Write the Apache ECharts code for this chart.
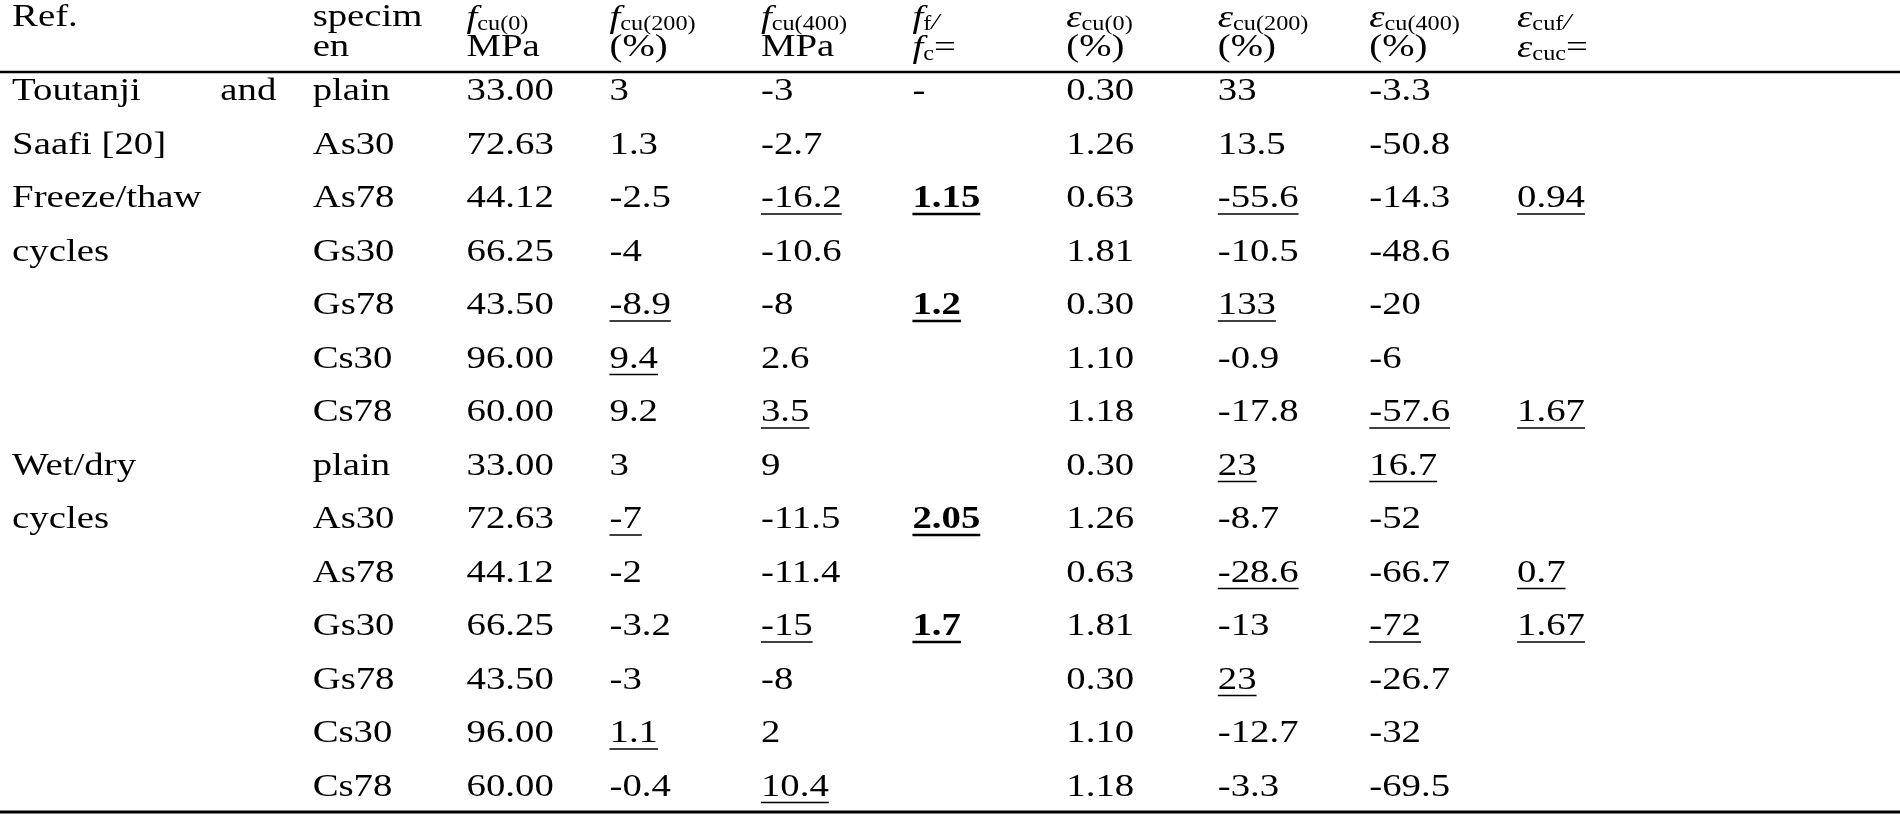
<!DOCTYPE html>
<html><head><meta charset="utf-8">
<script src="https://cdn.jsdelivr.net/npm/echarts@6/dist/echarts.min.js"></script>
<style>html,body{margin:0;background:#fff}#c{width:1900px;height:826px}</style>
</head><body><div id="c"></div>
<script>
// column keys and header fragments
const columns = ['ref', 'specimen', 'fcu0', 'fcu200', 'fcu400', 'ffc', 'ecu0', 'ecu200', 'ecu400', 'ecuf']
const header1 = ['Ref.', 'specim', '{i|f}{s|cu(0)}', '{i|f}{s|cu(200)}', '{i|f}{s|cu(400)}', '{i|f}{s|f}{n|/}',
  '{i|ε}{s|cu(0)}', '{i|ε}{s|cu(200)}', '{i|ε}{s|cu(400)}', '{i|ε}{s|cuf}{n|/}']
const header2 = ['', 'en', 'MPa', '(%)', 'MPa', '{i|f}{s|c}{m|=}', '(%)', '(%)', '(%)', '{i|ε}{s|cuc}{m|=}']

// "u:" = underlined, "b:" = bold underlined
const refText = ['Toutanji|and', 'Saafi [20]', 'Freeze/thaw', 'cycles', '', '', '', 'Wet/dry', 'cycles', '', '', '', '', '']
const specimen = ['plain', 'As30', 'As78', 'Gs30', 'Gs78', 'Cs30', 'Cs78', 'plain', 'As30', 'As78', 'Gs30', 'Gs78', 'Cs30', 'Cs78']
const fcu0 = ['33.00', '72.63', '44.12', '66.25', '43.50', '96.00', '60.00', '33.00', '72.63', '44.12', '66.25', '43.50', '96.00', '60.00']
const fcu200 = ['3', '1.3', '-2.5', '-4', 'u:-8.9', 'u:9.4', '9.2', '3', 'u:-7', '-2', '-3.2', '-3', 'u:1.1', '-0.4']
const fcu400 = ['-3', '-2.7', 'u:-16.2', '-10.6', '-8', '2.6', 'u:3.5', '9', '-11.5', '-11.4', 'u:-15', '-8', '2', 'u:10.4']
const ffc = ['-', '', 'b:1.15', '', 'b:1.2', '', '', '', 'b:2.05', '', 'b:1.7', '', '', '']
const ecu0 = ['0.30', '1.26', '0.63', '1.81', '0.30', '1.10', '1.18', '0.30', '1.26', '0.63', '1.81', '0.30', '1.10', '1.18']
const ecu200 = ['33', '13.5', 'u:-55.6', '-10.5', 'u:133', '-0.9', '-17.8', 'u:23', '-8.7', 'u:-28.6', '-13', 'u:23', '-12.7', '-3.3']
const ecu400 = ['-3.3', '-50.8', '-14.3', '-48.6', '-20', '-6', 'u:-57.6', 'u:16.7', '-52', '-66.7', 'u:-72', '-26.7', '-32', '-69.5']
const ecuf = ['', '', 'u:0.94', '', '', '', 'u:1.67', '', '', 'u:0.7', 'u:1.67', '', '', '']

const body = [refText, specimen, fcu0, fcu200, fcu400, ffc, ecu0, ecu200, ecu400, ecuf]

// layout (x in table units, 1568 wide; glyphs stretched horizontally to fill 1900 px)
const colX = [10, 258, 385, 503, 628, 753, 880, 1005, 1130, 1252]
const andRight = 228
const SX = 1900 / 1568
const FONT = "'Liberation Serif','Times New Roman',serif"
const FS = 32
const rich = {
  i: {fontFamily: FONT, fontSize: FS, fontStyle: 'italic', verticalAlign: 'bottom', lineHeight: 34},
  s: {fontFamily: FONT, fontSize: 20, verticalAlign: 'bottom', lineHeight: 28},
  n: {fontFamily: FONT, fontSize: 24, fontStyle: 'italic', verticalAlign: 'bottom', lineHeight: 34},
  m: {fontFamily: FONT, fontSize: FS, verticalAlign: 'bottom', lineHeight: 34}
}

const ctx = document.createElement('canvas').getContext('2d')
function textWidth(t, bold) {
  ctx.font = (bold ? 'bold ' : '') + FS + 'px ' + FONT
  return ctx.measureText(t).width
}

const cells = []
body.forEach((col, c) => col.forEach((v, r) => { if (v) cells.push([c, r, v]) }))
const heads = []
header1.forEach((v, c) => heads.push([c, -1.383, v]))
header2.forEach((v, c) => { if (v) heads.push([c, -0.822, v]) })
const rules = [[-0.374, 2.6], [13.458, 3]]

function txt(x, y, text, extra) {
  return Object.assign({type: 'text', x: x, y: y, scaleX: SX,
    style: {x: 0, y: 0, text: text, font: FS + 'px ' + FONT, verticalAlign: 'middle', fill: '#000'}}, extra || {})
}

function cellItem(params, api) {
  const c = api.value(0), r = api.value(1)
  let v = (params.seriesIndex === 0 ? cells : heads)[params.dataIndex][2]
  const p = api.coord([colX[c], r])
  if (params.seriesIndex === 1) {
    const t = txt(p[0], p[1], v)
    t.style.rich = rich
    t.style.fontFamily = FONT
    t.style.fontSize = FS
    delete t.style.font
    return t
  }
  let under = false, bold = false
  if (v.startsWith('u:')) { under = true; v = v.slice(2) }
  else if (v.startsWith('b:')) { under = true; bold = true; v = v.slice(2) }
  const children = []
  if (v.includes('|')) {
    const parts = v.split('|')
    const q = api.coord([andRight, r])
    children.push(txt(p[0], p[1], parts[0]))
    const t = txt(q[0], q[1], parts[1])
    t.style.align = 'right'
    children.push(t)
  } else {
    const t = txt(p[0], p[1], v)
    if (bold) t.style.font = 'bold ' + FS + 'px ' + FONT
    children.push(t)
  }
  if (under) {
    const w = textWidth(v, bold) * SX
    children.push({type: 'line', shape: {x1: p[0], y1: p[1] + 15, x2: p[0] + w, y2: p[1] + 15},
      style: {stroke: '#000', lineWidth: bold ? 2.4 : 1.6}})
  }
  return {type: 'group', children}
}

const chart = echarts.init(document.getElementById('c'))
chart.setOption({
  animation: false,
  grid: {left: 0, right: 0, top: 0, bottom: 0},
  xAxis: {type: 'value', min: 0, max: 1568, show: false},
  yAxis: {type: 'value', min: -1.7196, max: 13.7196, inverse: true, show: false},
  series: [
    {type: 'custom', data: cells, renderItem: cellItem},
    {type: 'custom', data: heads, renderItem: cellItem},
    {type: 'custom', data: rules, renderItem: (params, api) => {
      const a = api.coord([0, api.value(0)]), b = api.coord([1568, api.value(0)])
      return {type: 'line', shape: {x1: a[0], y1: a[1], x2: b[0], y2: b[1]}, style: {stroke: '#000', lineWidth: api.value(1)}}
    }}
  ]
})
</script></body></html>
